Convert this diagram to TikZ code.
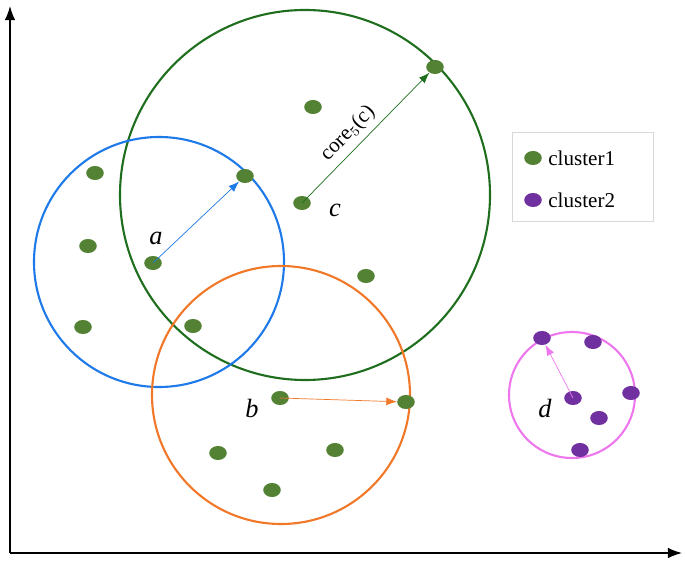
\documentclass[tikz,border=0pt]{standalone}
\usepackage{fontspec}
\setmainfont{Liberation Serif}
\usetikzlibrary{arrows.meta,shapes.geometric}
\definecolor{dotgreen}{HTML}{548235}
\definecolor{ringgreen}{HTML}{1E6E1E}
\definecolor{ringblue}{HTML}{1E7AE8}
\definecolor{ringorange}{HTML}{F07828}
\definecolor{ringpink}{HTML}{EE77EE}
\definecolor{dotpurple}{HTML}{7030A0}
\tikzset{
  gdot/.style = {ellipse, fill=dotgreen, minimum width=10pt, minimum height=8pt, inner sep=0pt},
  pdot/.style = {ellipse, fill=dotpurple, minimum width=10pt, minimum height=8pt, inner sep=0pt},
  lbl/.style = {font=\itshape\fontsize{15}{15}\selectfont}
}
\begin{document}
\begin{tikzpicture}[x=0.02cm, y=-0.02cm]
\useasboundingbox (0,0) rectangle (685,563);
% axes
\coordinate (o) at (10,553);
\coordinate (ytop) at (10,6);
\coordinate (xend) at (682,553);
\draw [thick, -{Latex[length=8pt]}] (o) -- (ytop);
\draw [thick, -{Latex[length=8pt]}] (o) -- (xend);
% neighbourhoods
\draw [ringgreen, line width=1.2pt] (305,195) circle [radius=185];
\draw [ringblue, line width=1.2pt] (159,262) circle [radius=125];
\draw [ringorange, line width=1.2pt] (281,395) circle [radius=129];
\draw [ringpink, line width=1.2pt] (572,395) circle [radius=63];
% cluster1
\node [gdot] at (95,173) {};
\node [gdot] at (88,246) {};
\node [gdot] at (83,327) {};
\node [gdot] (a) at (153,263) {};
\node [gdot] (a1) at (245,176) {};
\node [gdot] at (193,326) {};
\node [gdot] (c) at (302,203) {};
\node [gdot] at (313,107) {};
\node [gdot] at (366,276) {};
\node [gdot] (c1) at (435,67) {};
\node [gdot] (b) at (280,398) {};
\node [gdot] (b1) at (406,402) {};
\node [gdot] at (218,453) {};
\node [gdot] at (335,450) {};
\node [gdot] at (272,490) {};
% cluster2
\node [pdot] (d1) at (542,338) {};
\node [pdot] at (593,342) {};
\node [pdot] at (631,393) {};
\node [pdot] (d) at (573,398) {};
\node [pdot] at (599,418) {};
\node [pdot] at (580,450) {};
% core distances
\draw [ringblue, -{Latex[length=6pt]}] (a.center) -- (a1);
\draw [ringgreen, -{Latex[length=6pt]}] (c.center) -- node [sloped, above, pos=0.45, black, font=\fontsize{12}{12}\selectfont] {core$_5$(c)} (c1);
\draw [ringorange, -{Latex[length=6pt]}] (b.center) -- (b1);
\draw [ringpink, -{Latex[length=6pt]}] (d.center) -- (d1);
\node [lbl] at (156,238) {a};
\node [lbl] at (335,210) {c};
\node [lbl] at (252,408) {b};
\node [lbl] at (545,408) {d};
% legend
\node [draw=gray!30, minimum width=141*0.02cm, minimum height=89*0.02cm] (legend) at (583,177) {};
\node [gdot] (l1) at (533,158) {};
\node [anchor=west, font=\fontsize{12}{12}\selectfont] at (l1.east) {cluster1};
\node [pdot] (l2) at (533,200) {};
\node [anchor=west, font=\fontsize{12}{12}\selectfont] at (l2.east) {cluster2};
\end{tikzpicture}
\end{document}
